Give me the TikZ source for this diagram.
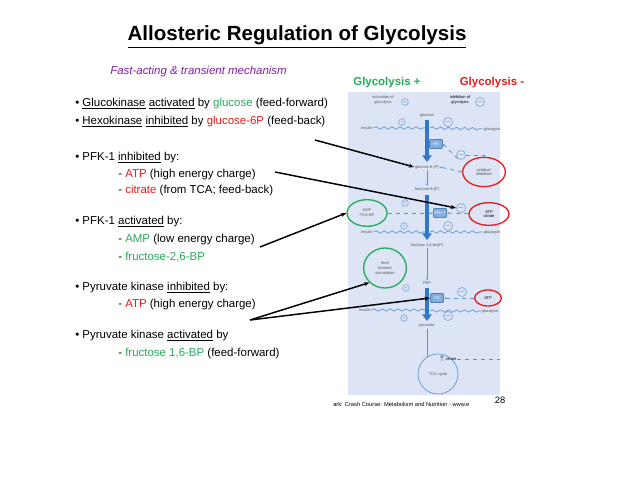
\documentclass[tikz,border=0pt]{standalone}
\usepackage{fontspec}
\setmainfont{Liberation Sans}
\usetikzlibrary{decorations.pathmorphing,arrows.meta,shapes.geometric}
\definecolor{gg}{RGB}{40,170,90}
\definecolor{rr}{RGB}{230,30,30}
\definecolor{pp}{RGB}{130,30,160}
\definecolor{panel}{RGB}{220,228,245}
\definecolor{bb}{RGB}{50,120,200}
\tikzset{
 txt/.style={anchor=west,font=\fontsize{8.6}{10}\selectfont,inner sep=0},
 tiny/.style={font=\fontsize{3}{3.5}\selectfont,text=gray!70!black,align=center,inner sep=0.5pt},
 enz/.style={draw=bb!80!black,fill=bb!60,rounded corners=1.5pt,minimum width=10pt,minimum height=7pt,font=\fontsize{3}{3}\selectfont,text=white,inner sep=0.5pt},
 thick blue/.style={bb,line width=2.6pt,-{Triangle[length=5pt,width=7pt]}},
 thin blue/.style={bb!80,line width=0.5pt,-{Stealth[length=2pt]}},
 wavy/.style={bb!80,line width=0.5pt,decorate,decoration={snake,amplitude=0.9pt,segment length=6pt}},
 dot/.style={bb!80,dashed,line width=0.6pt},
 minus/.style={circle,draw=bb!70,inner sep=0,minimum size=5pt,font=\fontsize{3}{3}\selectfont,text=bb},
 rell/.style={ellipse,draw=rr,line width=1pt,inner sep=0},
 gell/.style={ellipse,draw=gg,line width=1pt,inner sep=0},
 pt/.style={-{Stealth[length=4pt]},line width=1.1pt,black}
}
\begin{document}
\begin{tikzpicture}[x=0.75pt,y=-0.75pt]
\useasboundingbox[fill=white] (0,0) rectangle (638,478);
% title
\node[font=\bfseries\fontsize{15.4}{17}\selectfont] (title) at (297,37) {\underline{Allosteric Regulation of Glycolysis}};
\node[anchor=west,font=\itshape\fontsize{8.6}{10}\selectfont,text=pp,inner sep=0] (sub) at (110,72) {Fast-acting \& transient mechanism};
% left texts
\node[txt] (l1) at (75,104) {• \underline{Glucokinase} \underline{activated} by \textcolor{gg}{glucose} (feed-forward)};
\node[txt] (l2) at (75,122) {• \underline{Hexokinase} \underline{inhibited} by \textcolor{rr}{glucose-6P} (feed-back)};
\node[txt] (l3) at (75,158) {• PFK-1 \underline{inhibited} by:};
\node[txt] (l4) at (118,175) {- \textcolor{rr}{ATP} (high energy charge)};
\node[txt] (l5) at (118,191) {- \textcolor{rr}{citrate} (from TCA; feed-back)};
\node[txt] (l6) at (75,222) {• PFK-1 \underline{activated} by:};
\node[txt] (l7) at (118,240) {- \textcolor{gg}{AMP} (low energy charge)};
\node[txt] (l8) at (118,257) {- \textcolor{gg}{fructose-2,6-BP}};
\node[txt] (l9) at (75,288) {• Pyruvate kinase \underline{inhibited} by:};
\node[txt] (l10) at (118,305) {- \textcolor{rr}{ATP} (high energy charge)};
\node[txt] (l11) at (75,336) {• Pyruvate kinase \underline{activated} by};
\node[txt] (l12) at (118,354) {- \textcolor{gg}{fructose 1,6-BP} (feed-forward)};
% panel
\fill[panel] (348,92) rectangle (500,395);
\node[font=\bfseries\fontsize{8.6}{10}\selectfont,text=gg] (gp) at (387,83) {Glycolysis +};
\node[font=\bfseries\fontsize{8.6}{10}\selectfont,text=rr] (gm) at (492,83) {Glycolysis -};
\node[tiny] (act) at (383,100) {activation of\\glycolysis};
\node[tiny,text=black] (inh) at (460,100) {inhibition of\\glycolysis};
\node[minus] (m0a) at (405,102) {+};
\node[minus] (m0b) at (480,102) {$-$};
% pathway nodes
\node[tiny] (glc) at (427,115) {glucose};
\node[tiny] (g6p) at (427,167) {glucose-6-(P)};
\node[tiny] (f6p) at (427,189) {fructose-6-(P)};
\node[tiny] (f16) at (427,245) {fructose 1,6-bis(P)};
\node[tiny] (pep) at (427,283) {PEP};
\node[tiny] (pyr) at (427,326) {pyruvate};
\draw[thick blue] (427,120) -- (427,162);
\draw[thin blue] (g6p) -- (f6p);
\draw[thick blue] (427,195) -- (427,240);
\draw[thin blue] (f16) -- (pep);
\draw[thick blue] (427,288) -- (427,321);
\draw[bb!80,line width=0.5pt] (pyr) -- (427,357);
\node[circle,draw=bb!80,line width=0.5pt,minimum size=30pt,inner sep=0,font=\fontsize{3}{3}\selectfont,text=gray!70!black] (tca) at (438,374) {TCA cycle};
\node[tiny,text=black] (cit) at (448,359) {$\uparrow$ citrate};
\draw[dot] (cit) -- (500,359);
% enzymes
\node[enz] (hk) at (436,144) {HK};
\node[enz] (pfk) at (440,213) {PFK-1};
\node[enz] (pk) at (437,298) {PK};
% insulin / glucagon
\node[tiny] (ins1) at (367,128) {insulin};
\node[tiny] (glg1) at (492,129) {glucagon};
\draw[wavy] (ins1) -- (425,128);
\draw[wavy] (430,128) -- (glg1);
\node[tiny] (ins2) at (367,232) {insulin};
\node[tiny] (glg2) at (492,232) {glucagon};
\draw[wavy] (ins2) -- (425,232);
\draw[wavy] (430,232) -- (glg2);
\node[tiny] (ins3) at (365,310) {insulin};
\node[tiny] (glg3) at (490,311) {glucagon};
\draw[wavy] (ins3) -- (425,310);
\draw[wavy] (430,311) -- (glg3);
\node[minus] (m1) at (402,122) {+};
\node[minus] (m2) at (448,122) {$-$};
\node[minus] (m3) at (404,226) {+};
\node[minus] (m4) at (448,226) {$-$};
\node[minus] (m5) at (406,288) {+};
\node[minus] (m6) at (404,318) {+};
\node[minus] (m7) at (448,316) {$-$};
\node[minus] (m8) at (461,155) {$-$};
\node[minus] (m9) at (461,208) {$-$};
\node[minus] (m10) at (462,292) {$-$};
\node[minus] (m11) at (405,203) {+};
% regulator ellipses
\node[rell,minimum width=32pt,minimum height=22pt,tiny,text=gray!60!black] (prod) at (484,172) {product\\inhibition};
\node[rell,minimum width=30pt,minimum height=17pt,tiny,text=black] (atpc) at (489,214) {ATP\\citrate};
\node[gell,minimum width=30pt,minimum height=20pt,tiny] (amp) at (367,213) {AMP\\F2,6-BP};
\node[gell,minimum width=32pt,minimum height=30pt,tiny] (ff) at (385,268) {feed\\forward\\stimulation};
\node[rell,minimum width=20pt,minimum height=12pt,tiny,text=black] (atp2) at (488,298) {ATP};
% dotted regulation
\draw[dot,-{Stealth[length=2pt]}] (prod.west) -- (g6p.east);
\draw[dot] (prod.north) |- (m8);
\draw[dot,-{Stealth[length=2pt]}] (m8.south west) -- (hk.east);
\draw[dot,-{Stealth[length=2pt]}] (atpc) -- (pfk);
\draw[dot,-{Stealth[length=2pt]}] (amp) -- (pfk);
\draw[dot,-{Stealth[length=2pt]}] (atp2) -- (pk);
% caption
\node[anchor=west,font=\fontsize{4.3}{5}\selectfont,inner sep=0] (cap) at (333,404) {ark: Crash Course: Metabolism and Nutrition - www.e};
\node[font=\fontsize{7}{8}\selectfont,inner sep=0] (pg) at (500,400) {28};
% pointer arrows
\coordinate (s1) at (315,140);
\coordinate (s2) at (275,172);
\coordinate (s3) at (260,247);
\coordinate (s4) at (250,320);
\draw[pt] (s1) -- (g6p.west);
\draw[pt] (s2) -- (m9.west);
\draw[pt] (s3) -- (amp.west);
\draw[pt] (s4) -- (ff.south west);
\draw[pt] (s4) -- (pk.west);
\end{tikzpicture}
\end{document}
